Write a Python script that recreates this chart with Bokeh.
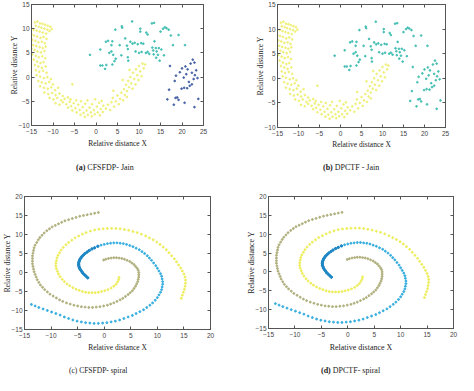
from bokeh.plotting import figure
from bokeh.layouts import column, row
from bokeh.models import Div, FixedTicker, Range1d, LinearAxis, CustomLabelingPolicy
from bokeh.embed import file_html
from bokeh.resources import INLINE

# ---------------- Jain data ----------------
jain_yellow = [
    (-14.2, 11.3), (-13.6, 11.5), (-13.0, 11.1), (-12.4, 11.0), (-11.8, 10.8), (-11.2, 10.6), (-10.6, 10.4), (-10.3, 9.9),
    (-14.0, 10.6), (-13.3, 10.4), (-12.7, 10.2), (-12.0, 10.0), (-11.3, 9.8), (-10.8, 9.5), (-14.5, 9.8), (-13.8, 9.6),
    (-13.1, 9.4), (-12.4, 9.2), (-11.6, 9.0),
    (-15.0, 8.8), (-14.4, 8.6), (-13.7, 8.4), (-12.9, 8.1), (-12.2, 8.3), (-11.5, 7.9), (-14.8, 7.7), (-14.1, 7.5),
    (-13.4, 7.2), (-12.6, 7.3), (-11.9, 7.0), (-14.6, 6.6), (-13.9, 6.4), (-13.1, 6.2), (-12.4, 6.0), (-11.7, 6.3),
    (-15.0, 5.9), (-14.3, 5.6), (-13.6, 5.3), (-12.8, 5.1), (-12.0, 5.4),
    (-14.8, 4.7), (-14.0, 4.4), (-13.3, 4.1), (-12.5, 4.3), (-11.8, 3.9), (-14.5, 3.6), (-13.7, 3.2), (-12.9, 2.9),
    (-12.2, 3.1), (-14.2, 2.5), (-13.4, 2.2), (-12.6, 1.9), (-11.7, 2.2), (-14.0, 1.4), (-13.2, 1.1), (-12.3, 1.3),
    (-11.5, 0.9),
    (-13.8, 0.4), (-13.0, 0.1), (-12.1, -0.2), (-11.3, 0.0), (-10.5, -0.4), (-13.4, -0.8), (-12.6, -1.1), (-11.7, -1.3),
    (-10.9, -1.0), (-10.0, -1.5), (-13.0, -1.9), (-12.1, -2.2), (-11.2, -2.4), (-10.4, -2.1), (-9.5, -2.7), (-8.8, -2.2),
    (-12.0, -3.2), (-11.1, -3.5), (-10.2, -3.3), (-9.4, -3.7), (-8.5, -3.4), (-7.7, -3.9), (-10.8, -4.3), (-9.9, -4.6),
    (-9.0, -4.3), (-8.1, -4.8), (-7.3, -4.5), (-6.5, -4.2), (-9.4, -5.4), (-8.5, -5.7), (-7.7, -5.2), (-6.9, -5.6),
    (-6.1, -5.1), (-5.5, -1.5),
    (-6.5, -6.3), (-5.8, -6.0), (-5.2, -5.4), (-4.6, -4.8), (-5.5, -6.9), (-4.8, -6.4), (-4.1, -5.7), (-3.5, -5.0),
    (-4.5, -7.3), (-3.8, -6.8), (-3.1, -6.2), (-2.5, -5.5), (-3.6, -7.8), (-2.9, -7.4), (-2.2, -6.9), (-1.5, -6.3),
    (-0.9, -5.6), (-2.6, -8.2), (-1.9, -7.8), (-1.2, -7.3), (-0.5, -6.8), (0.2, -6.1), (0.7, -5.3), (-1.0, -8.1),
    (-0.3, -7.7), (0.4, -7.3), (1.1, -6.6), (1.7, -5.9), (1.3, -4.9), (0.9, -7.9), (1.6, -7.2), (2.3, -6.5),
    (2.8, -5.7), (-5.9, -4.6), (-2.0, -4.8), (-0.2, -4.6),
    (3.3, -6.8), (3.6, -5.2), (3.9, -4.3), (4.2, -6.1), (4.6, -5.0), (5.0, -3.8), (5.3, -5.6), (5.6, -4.5),
    (5.9, -3.2), (6.3, -4.8), (6.5, -2.5), (6.7, -3.7), (7.0, -1.6), (7.2, -2.9), (7.5, -0.8), (7.7, -2.1),
    (7.2, -4.1), (8.0, 0.0), (8.2, -1.3), (8.5, -2.4), (8.6, 0.9), (8.9, -0.4), (9.2, -1.5), (9.3, 1.6),
    (9.6, 0.4), (9.9, -0.6), (10.0, 2.3), (10.3, 1.2), (10.6, 0.2), (10.8, 2.8), (11.1, 1.8), (11.4, 2.6),
    (7.8, 1.5), (6.2, -0.6), (4.0, -2.8),
]
jain_teal = [
    (-1.4, 4.6), (1.0, 5.7), (1.0, 2.4), (1.5, 2.4), (2.1, 1.7), (2.3, 7.3), (2.8, 7.5), (2.4, 2.5),
    (3.1, 5.0), (3.6, 5.3), (3.8, 7.4), (3.6, 6.6), (3.8, 2.6), (4.0, 4.6), (4.3, 3.3), (4.5, 9.8),
    (4.6, 3.8), (5.5, 6.6), (6.0, 10.5), (6.1, 10.2), (5.9, 4.5), (6.8, 8.0), (7.2, 6.5), (7.4, 5.8),
    (7.4, 4.1), (7.5, 3.4), (8.0, 7.3), (8.4, 11.5), (8.5, 6.9), (9.0, 7.1), (9.2, 5.3), (9.7, 6.8),
    (10.0, 5.0), (10.3, 10.0), (10.3, 9.4), (10.6, 5.2), (11.0, 6.9), (11.7, 9.2), (12.0, 8.8), (11.6, 5.0),
    (12.4, 4.8), (13.0, 11.1), (13.5, 11.2), (13.1, 6.1), (13.3, 5.5), (13.4, 4.7), (13.6, 7.4), (13.9, 6.0),
    (14.1, 5.3), (14.4, 4.6), (14.6, 6.0), (14.8, 3.4), (15.0, 9.4), (15.2, 5.7), (15.6, 10.0), (16.0, 10.3),
    (16.4, 10.1), (16.9, 9.8), (17.4, 8.6), (17.9, 6.6), (19.2, 8.7), (20.7, 6.6), (15.8, 4.5), (14.0, 4.0),
    (12.0, 5.2), (10.5, 7.0),
]
jain_blue = [
    (17.2, 2.3), (17.0, -2.6), (16.6, -4.6), (18.3, -0.8), (18.6, 0.3), (18.9, -4.2), (19.2, -4.7), (18.1, -5.7),
    (19.9, -2.4), (20.0, 1.8), (20.4, -0.1), (20.5, -2.2), (20.8, 2.2), (20.6, -5.3), (21.0, 0.6), (21.3, 1.6),
    (21.6, -1.0), (21.8, -1.8), (22.0, 2.8), (22.3, 0.9), (22.5, 3.6), (22.7, -0.4), (22.9, 3.0), (23.0, 0.4),
    (23.3, 1.4), (22.9, -6.2), (23.8, -4.5), (23.6, -0.2), (22.3, -1.5), (19.5, 1.0), (21.2, -2.3), (18.5, -4.3),
]

# ---------------- Spiral data ----------------
spiral_olive = [
    (-1.1, 15.8), (-1.8, 15.6), (-2.5, 15.4), (-3.2, 15.2), (-3.9, 15.0), (-4.6, 14.8), (-5.3, 14.5), (-6.0, 14.2),
    (-6.7, 13.9), (-7.4, 13.6), (-8.0, 13.2), (-8.6, 12.8), (-9.2, 12.4), (-9.8, 12.0), (-10.3, 11.5), (-10.8, 11.0),
    (-11.3, 10.4), (-11.7, 9.8), (-12.1, 9.2), (-12.4, 8.6), (-12.7, 7.9), (-13.0, 7.2), (-13.2, 6.5), (-13.3, 5.8),
    (-13.4, 5.1), (-13.5, 4.4), (-13.5, 3.7), (-13.5, 3.0), (-13.5, 2.3), (-13.4, 1.6), (-13.3, 0.9), (-13.2, 0.2),
    (-13.0, -0.5), (-12.8, -1.2), (-12.6, -1.9), (-12.3, -2.6), (-12.0, -3.3), (-11.6, -3.9), (-11.2, -4.5), (-10.7, -5.1),
    (-10.2, -5.7), (-9.6, -6.2), (-9.0, -6.7), (-8.4, -7.2), (-7.8, -7.6), (-7.1, -8.0), (-6.4, -8.3), (-5.7, -8.6),
    (-5.0, -8.8), (-4.3, -9.0), (-3.6, -9.1), (-2.9, -9.2), (-2.2, -9.2), (-1.5, -9.1), (-0.8, -9.0), (-0.1, -8.8),
    (0.6, -8.6), (1.2, -8.3), (1.8, -8.0), (2.4, -7.6), (3.0, -7.2), (3.5, -6.8), (4.0, -6.3), (4.5, -5.8),
    (4.9, -5.3), (5.3, -4.8), (5.6, -4.2), (5.9, -3.6), (6.1, -3.0), (6.3, -2.4), (6.4, -1.8), (6.5, -1.2),
    (6.5, -0.6), (6.5, 0.0), (6.4, 0.6), (6.2, 1.1), (5.9, 1.6), (5.6, 2.1), (5.2, 2.5), (4.8, 2.9),
    (4.3, 3.2), (3.8, 3.5), (3.3, 3.7), (2.8, 3.8), (2.3, 3.9), (1.8, 3.9), (1.3, 3.8), (0.8, 3.7),
    (0.3, 3.5), (-0.1, 3.3),
]
spiral_yellow = [
    (2.8, -1.3), (2.7, -1.9), (2.5, -2.5), (2.2, -3.1), (1.8, -3.6), (1.3, -4.1), (0.7, -4.5), (0.1, -4.8),
    (-0.5, -5.0), (-1.1, -5.2), (-1.7, -5.3), (-2.3, -5.3), (-2.9, -5.3), (-3.5, -5.2), (-4.1, -5.0), (-4.7, -4.7),
    (-5.3, -4.4), (-5.9, -4.0), (-6.5, -3.5), (-7.0, -3.0), (-7.5, -2.4), (-7.9, -1.8), (-8.3, -1.1), (-8.6, -0.4),
    (-8.8, 0.3), (-9.0, 1.0), (-9.1, 1.7), (-9.1, 2.4), (-9.0, 3.1), (-8.9, 3.8), (-8.7, 4.5), (-8.4, 5.2),
    (-8.1, 5.9), (-7.7, 6.6), (-7.2, 7.3), (-6.7, 7.9), (-6.1, 8.5), (-5.5, 9.1), (-4.8, 9.6), (-4.1, 10.1),
    (-3.4, 10.5), (-2.6, 10.9), (-1.8, 11.2), (-1.0, 11.4), (-0.2, 11.5), (0.6, 11.6), (1.4, 11.6), (2.2, 11.6),
    (3.0, 11.5), (3.8, 11.3), (4.6, 11.1), (5.4, 10.8), (6.2, 10.5), (7.0, 10.1), (7.8, 9.6), (8.5, 9.1),
    (9.2, 8.6), (9.9, 8.0), (10.5, 7.4), (11.1, 6.7), (11.7, 6.0), (12.2, 5.2), (12.7, 4.4), (13.2, 3.6),
    (13.6, 2.8), (14.0, 2.0), (14.4, 1.2), (14.7, 0.4), (15.0, -0.4), (15.2, -1.2), (15.3, -2.0), (15.3, -2.8),
    (15.2, -3.6), (15.1, -4.4), (14.9, -5.2), (14.7, -6.0), (14.5, -6.8),
]
spiral_blue = [
    (-3.1, -1.4), (-3.4, -1.0), (-3.7, -0.6), (-4.0, -0.2), (-4.2, 0.2), (-4.4, 0.6), (-4.6, 1.0), (-4.7, 1.4),
    (-4.8, 1.8), (-4.8, 2.2), (-4.8, 2.6), (-4.7, 3.0), (-4.6, 3.4), (-4.4, 3.8), (-4.2, 4.2), (-3.9, 4.6),
    (-3.6, 5.0), (-3.2, 5.4), (-2.8, 5.8), (-2.3, 6.2), (-1.8, 6.5), (-1.2, 6.9), (-0.6, 7.2), (0.0, 7.4),
    (0.6, 7.6), (1.2, 7.7), (1.8, 7.8), (2.4, 7.8), (3.0, 7.7), (3.6, 7.6), (4.2, 7.4), (4.8, 7.1),
    (5.4, 6.8), (6.0, 6.4), (6.6, 6.0), (7.1, 5.5), (7.6, 5.0), (8.1, 4.4), (8.5, 3.8), (8.9, 3.2),
    (9.3, 2.5), (9.7, 1.8), (10.0, 1.1), (10.3, 0.4), (10.6, -0.3), (10.8, -1.0), (10.9, -1.7), (11.0, -2.4),
    (11.0, -3.1), (10.9, -3.8), (10.8, -4.5), (10.6, -5.2), (10.3, -5.9), (10.0, -6.6), (9.6, -7.3), (9.1, -8.0),
    (8.6, -8.6), (8.0, -9.2), (7.4, -9.8), (6.7, -10.3), (6.0, -10.8), (5.3, -11.3), (4.5, -11.7), (3.7, -12.1),
    (2.9, -12.5), (2.1, -12.8), (1.3, -13.0), (0.5, -13.2), (-0.3, -13.3), (-1.1, -13.4), (-1.9, -13.4), (-2.7, -13.3),
    (-3.5, -13.2), (-4.3, -13.0), (-5.1, -12.8), (-5.9, -12.5), (-6.7, -12.1), (-7.5, -11.7), (-8.3, -11.2), (-9.1, -10.8),
    (-9.9, -10.4), (-10.7, -10.0), (-11.5, -9.6), (-12.3, -9.2), (-13.0, -8.8), (-13.7, -8.4),
]

jain_xticks = [-15, -10, -5, 0, 5, 10, 15, 20, 25]
jain_yticks = [-10, -5, 0, 5, 10, 15]
spiral_xticks = [-15, -10, -5, 0, 5, 10, 15, 20]
spiral_yticks = [-15, -10, -5, 0, 5, 10, 15, 20]

captions = ["CFSFDP- Jain", "DPCTF - Jain", "CFSFDP- spiral", "DPCTF- spiral"]
x_label = "Relative distance X"
y_label = "Relative distance Y"

YELLOW_J = "#f0f078"
TEAL = "#45c0b4"
DBLUE = "#4662a6"
YELLOW_S = "#eeee5c"
OLIVE = "#b0b07e"
SBLUE = "#36aee0"
SBLUE_IN = "#1f86c4"
AX = "#555555"


def xs(pts):
    return [p[0] for p in pts]


def ys(pts):
    return [p[1] for p in pts]


def box_axis(ticks):
    # tick marks only (MATLAB box style): labels suppressed by the labeling policy
    return LinearAxis(ticker=FixedTicker(ticks=ticks), major_tick_in=3, major_tick_out=0,
                      minor_tick_line_color=None, axis_line_color=AX, major_tick_line_color=AX,
                      major_label_text_font_size="1px", major_label_standoff=0,
                      major_label_policy=CustomLabelingPolicy(
                          code="for (const i of indices) { indices.unset(i) }\nreturn indices"))


def make_fig(w, h, ml, bl, br, bt, bb, xr, yr, xt, yt, lab_size, xstand):
    p = figure(width=w, height=h, x_range=Range1d(*xr), y_range=Range1d(*yr),
               output_backend="svg", toolbar_location=None, margin=(0, 0, 0, ml),
               min_border_left=bl, min_border_right=br, min_border_top=bt, min_border_bottom=bb,
               x_axis_label=x_label, y_axis_label=y_label)
    p.grid.visible = False
    p.outline_line_color = AX
    p.outline_line_width = 1
    p.background_fill_color = "white"
    p.border_fill_color = "white"
    p.xaxis.ticker = FixedTicker(ticks=xt)
    p.yaxis.ticker = FixedTicker(ticks=yt)
    for ax in p.xaxis + p.yaxis:
        ax.major_tick_in = 3
        ax.major_tick_out = 0
        ax.minor_tick_line_color = None
        ax.major_tick_line_color = AX
        ax.axis_line_color = AX
        ax.major_label_text_font = "Liberation Sans"
        ax.major_label_text_font_size = "6.5px"
        ax.major_label_text_color = "#444444"
        ax.axis_label_text_font = "Liberation Serif"
        ax.axis_label_text_font_style = "normal"
        ax.axis_label_text_font_size = lab_size
        ax.axis_label_text_color = "#222222"
    p.xaxis.major_label_standoff = 3
    p.xaxis.axis_label_standoff = xstand
    p.yaxis.major_label_standoff = 2
    p.yaxis.axis_label_standoff = -4
    p.add_layout(box_axis(xt), "above")
    p.add_layout(box_axis(yt), "right")
    return p


def caption(tag, text, w, h, pad_top, pad_left, size, bold=True):
    t = f"<b>({tag})</b>" if bold else f"({tag})"
    html = (f'<div style="font-family:\'Liberation Serif\';font-size:{size};color:#222;'
            f'line-height:1;white-space:nowrap;padding-top:{pad_top}px;padding-left:{pad_left}px;">'
            f'{t} {text}</div>')
    return Div(text=html, width=w, height=h, margin=0)


SJ = 1.7
SS = 1.9

# (a)
pa = make_fig(222, 152, 7, 21, 26, 1, 27, (-15, 25), (-10, 15), jain_xticks, jain_yticks, "7.5px", 2)
pa.scatter(xs(jain_yellow), ys(jain_yellow), size=SJ, color=YELLOW_J)
pa.scatter(xs(jain_teal), ys(jain_teal), size=SJ, color=TEAL)
pa.scatter(xs(jain_blue), ys(jain_blue), size=SJ, color=DBLUE)
da = caption("a", captions[0], 229, 35, 12, 76, "8px")

# (b)
pb = make_fig(205, 152, 24, 21, 13, 1, 25, (-15, 25), (-10, 15), jain_xticks, jain_yticks, "7.5px", 1)
pb.scatter(xs(jain_yellow), ys(jain_yellow), size=SJ, color=YELLOW_J)
pb.scatter(xs(jain_teal), ys(jain_teal), size=SJ, color=TEAL)
pb.scatter(xs(jain_blue), ys(jain_blue), size=SJ, color=TEAL)
db = caption("b", captions[1], 229, 35, 12, 94, "8px")

# (c)
pc = make_fig(229, 167, 0, 24, 19, 9, 25, (-15, 20), (-15, 20), spiral_xticks, spiral_yticks, "7.5px", 2)
pc.scatter(xs(spiral_olive), ys(spiral_olive), size=SS, color=OLIVE)
pc.scatter(xs(spiral_yellow), ys(spiral_yellow), size=SS, color=YELLOW_S)
pc.scatter(xs(spiral_blue), ys(spiral_blue), size=SS, color=SBLUE)
pc.scatter(xs(spiral_blue[:22]), ys(spiral_blue[:22]), size=SS + 0.4, color=SBLUE_IN)
dc = caption("c", captions[2], 229, 21, 13, 69, "7.5px", bold=False)

# (d)
pd_ = make_fig(218, 167, 11, 28, 1, 9, 21, (-15, 20), (-15, 20), spiral_xticks, spiral_yticks, "8px", 3)
pd_.scatter(xs(spiral_olive), ys(spiral_olive), size=SS, color=OLIVE)
pd_.scatter(xs(spiral_yellow), ys(spiral_yellow), size=SS, color=YELLOW_S)
pd_.scatter(xs(spiral_blue), ys(spiral_blue), size=SS, color=SBLUE)
pd_.scatter(xs(spiral_blue[:22]), ys(spiral_blue[:22]), size=SS + 0.4, color=SBLUE_IN)
dd = caption("d", captions[3], 229, 21, 13, 92, "8px")

layout = column(row(column(pa, da), column(pb, db)), row(column(pc, dc), column(pd_, dd)))

open("out.html", "w").write(file_html(layout, INLINE))
